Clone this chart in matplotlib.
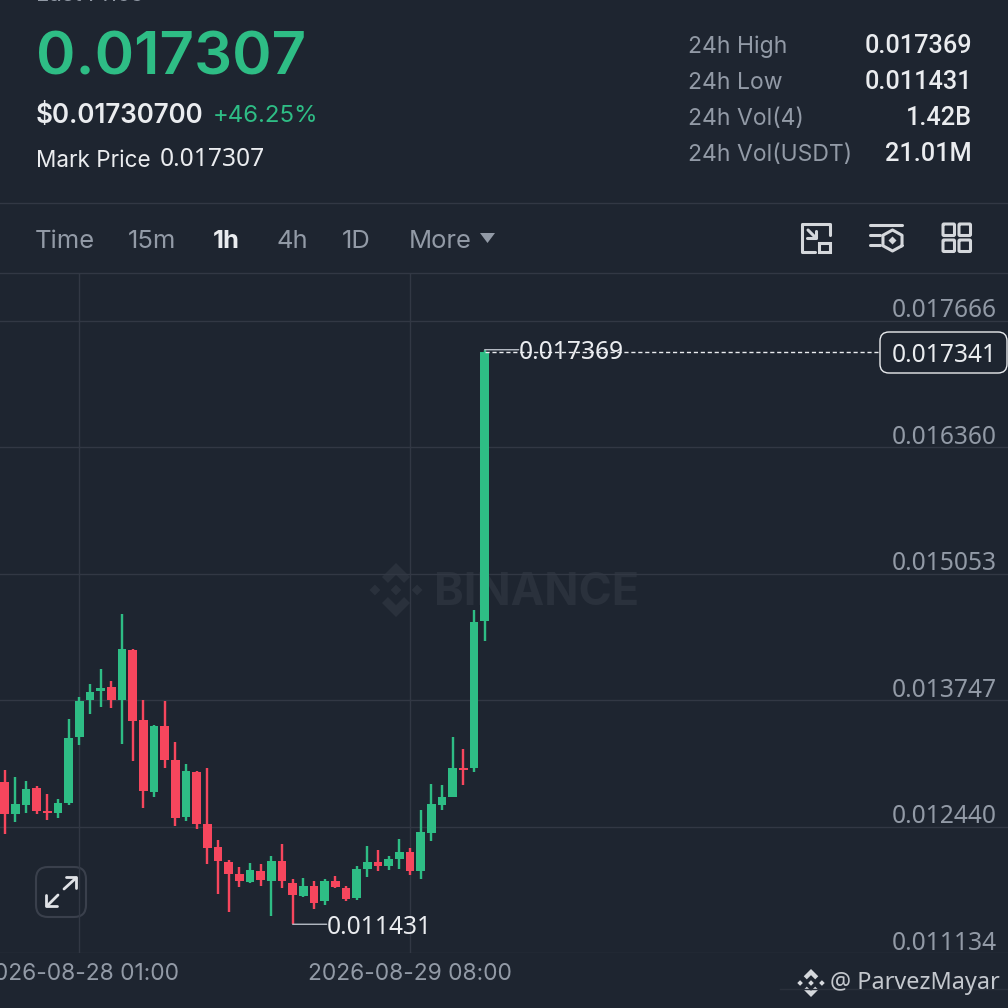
#!/usr/bin/env python3
"""Recreate a 1h candlestick screenshot of a price page."""

import matplotlib
matplotlib.use("Agg")
import matplotlib.pyplot as plt
import numpy as np
from matplotlib.patches import FancyBboxPatch, Polygon, Rectangle

# Prices are in millionths, candles run left to right one hour apart
opens = [12901, 12567, 12667, 12843, 12598, 12584, 12681, 13363, 13745, 13845,
         13880, 13749, 14266, 13539, 12802, 13480, 13129, 12536, 13008, 12471,
         12230, 12075, 11951, 11871, 11985, 11878, 12081, 11858, 11723, 11826,
         11668, 11875, 11806, 11699, 12006, 12075, 12033, 12106, 12178, 11982,
         12378, 12660, 12746, 13043, 13043, 14565]
highs = [13025, 12950, 12908, 12857, 12774, 12722, 13549, 13776, 13911, 14073,
         13945, 14638, 14273, 13749, 13491, 13739, 13311, 13091, 13015, 13050,
         12302, 12092, 12020, 12061, 12054, 12140, 12257, 11895, 11913, 11875,
         11895, 11933, 11826, 12037, 12240, 12195, 12137, 12312, 12216, 12609,
         12881, 12870, 13363, 13242, 14679, 17369]
lows = [12360, 12491, 12584, 12571, 12512, 12529, 12667, 13287, 13604, 13673,
        13663, 13298, 13122, 12636, 12750, 13050, 12450, 12498, 12419, 12050,
        11747, 11558, 11820, 11854, 11830, 11520, 11802, 11431, 11716, 11592,
        11634, 11809, 11675, 11685, 11916, 11985, 11995, 11999, 11940, 11899,
        12295, 12615, 12746, 12867, 13001, 14362]
closes = [12574, 12674, 12826, 12598, 12584, 12688, 13353, 13742, 13832, 13876,
          13745, 14279, 13532, 12805, 13484, 13129, 12529, 13012, 12471, 12223,
          12081, 11951, 11878, 11989, 11885, 12081, 11878, 11737, 11830, 11654,
          11882, 11816, 11696, 11999, 12071, 12033, 12102, 12174, 11978, 12381,
          12671, 12750, 13043, 13022, 14559, 17341]

price_ticks = [17666, 16360, 15053, 13747, 12440, 11134]
time_tick_candles = [7, 38]
time_tick_labels = ["2026-08-28 01:00", "2026-08-29 08:00"]
tabs = ["Time", "15m", "1h", "4h", "1D", "More"]
stat_names = ["24h High", "24h Low", "24h Vol(4)", "24h Vol(USDT)"]
stat_values = ["0.017369", "0.011431", "1.42B", "21.01M"]

BG = "#1e2530"
GRID = "#323844"
GREEN = "#2ebd85"
RED = "#f6465d"
WHITE = "#eaecef"
GREY = "#929aa6"
ICON = "#d5d8dc"
NUM_FONT = "Noto Sans"  # digits all the same width, like the reference
px = 72 / 100  # font points per pixel at dpi 100

plt.rcParams["font.family"] = ["Inter", "DejaVu Sans"]


def draw_logo(ax, cx, cy, r, color):
    """Draw the diamond logo in pixel coordinates."""
    top = [(0, 1), (0.52, 0.48), (0.3, 0.26), (0, 0.56), (-0.3, 0.26), (-0.52, 0.48)]
    shapes = [top, [(x, -y) for x, y in top]]
    for dx in (-0.78, 0, 0.78):
        s = 0.2
        shapes.append([(dx, s), (dx + s, 0), (dx, -s), (dx - s, 0)])
    for shape in shapes:
        pts = [(cx + x * r, cy - y * r) for x, y in shape]
        ax.add_patch(Polygon(pts, closed=True, fc=color, ec="none"))


fig = plt.figure(figsize=(10.08, 10.08), dpi=100, facecolor=BG)

# Page chrome lives in an axes measured in screen pixels
page = fig.add_axes([0, 0, 1, 1], zorder=0)
page.set_xlim(0, 1008)
page.set_ylim(1008, 0)
page.axis("off")

page.text(36, 1, "Last Price", color=GREY, fontsize=23 * px, va="baseline")
page.text(36, 59, "0.017307", color=GREEN, fontsize=60 * px, fontweight="semibold", va="center")
page.text(36, 116, "$0.01730700", color=WHITE, fontsize=26.1 * px, fontweight="semibold", va="center")
page.text(213, 116, "+46.25%", color=GREEN, fontsize=24 * px, va="center")
page.text(36, 161, "Mark Price", color=WHITE, fontsize=22.5 * px, va="center")
page.text(160, 160, "0.017307", color=WHITE, family=NUM_FONT, fontsize=24.6 * px, va="center")

for i, (name, value) in enumerate(zip(stat_names, stat_values)):
    y = 47 + 36 * i
    page.text(688, y, name, color=GREY, fontsize=23 * px, va="center")
    page.text(972, y - 1, value, color=WHITE, family="Roboto", fontsize=25.3 * px,
              fontweight="medium", va="center", ha="right")

page.plot([0, 1008], [203, 203], color=GRID, lw=1)
page.plot([0, 1008], [273, 273], color=GRID, lw=1)
page.plot([780, 1008], [989, 989], color="#2a303b", lw=1)

tab_x = [35, 128, 213, 277, 342, 409]
for name, x in zip(tabs, tab_x):
    active = name == "1h"
    page.text(x, 241, name, color=WHITE if active else GREY, fontsize=25.6 * px,
              fontweight="bold" if active else "normal", va="center")
page.add_patch(Polygon([(480, 233), (495, 233), (487.5, 243)], closed=True, fc=GREY, ec="none"))

# Toolbar icons
icon = dict(color=ICON, lw=2.2, solid_capstyle="round")
page.plot([830, 830, 802, 802, 815], [235, 224, 224, 252, 252], **icon)
page.add_patch(Rectangle((819, 243), 11, 9, fc="none", ec=ICON, lw=2.2))
page.plot([808, 816], [230, 238], **icon)
page.plot([816, 816, 807], [231, 238, 238], **icon)
page.plot([870, 902], [225, 225], **icon)
page.plot([870, 880], [235, 235], **icon)
page.plot([870, 880], [245, 245], **icon)
hex_a = np.deg2rad(np.arange(30, 391, 60))
page.plot(892.5 + 11 * np.cos(hex_a), 240.5 + 10.5 * np.sin(hex_a), **icon)
page.add_patch(Polygon([(892.5, 236.5), (896.5, 240.5), (892.5, 244.5), (888.5, 240.5)],
                       closed=True, fc=ICON, ec="none"))
for x in (943, 959):
    for y in (224, 240):
        page.add_patch(FancyBboxPatch((x, y), 11.5, 11.5, boxstyle="round,pad=0,rounding_size=1",
                                      fc="none", ec=ICON, lw=2.2))

# Watermarks
draw_logo(page, 396, 590, 27, "#2a313c")
page.text(434, 593, "BINANCE", color="#2a313c", fontsize=45 * px, fontweight="bold", va="center")
draw_logo(page, 811, 983, 14, ICON)
page.text(830, 983, "@ ParvezMayar", color="#c4c8ce", fontsize=23.5 * px, family="Noto Sans", va="center")

# Candles
chart = fig.add_axes([0, 55 / 1008, 1, 680 / 1008], zorder=1)
chart.patch.set_alpha(0)
for spine in chart.spines.values():
    spine.set_visible(False)
chart.set_xlim(-0.44, 94.06)
chart.set_ylim(0.011134, 0.018162)

o = np.array(opens) / 1e6
h = np.array(highs) / 1e6
l = np.array(lows) / 1e6
c = np.array(closes) / 1e6
x = np.arange(len(o))
colors = [GREEN if close >= op else RED for op, close in zip(o, c)]

chart.set_yticks(np.array(price_ticks) / 1e6)
chart.set_xticks(time_tick_candles)
chart.set_xticklabels(time_tick_labels, color=GREY, fontsize=22.8 * px)
chart.tick_params(axis="x", length=0, pad=7)
chart.tick_params(axis="y", length=0, labelleft=False)
chart.grid(True, color=GRID, lw=1)
chart.set_axisbelow(True)

chart.vlines(x, l, h, colors=colors, lw=2.4 * px, zorder=3)
body = np.maximum(np.abs(c - o), 0.00002)
chart.bar(x, body, bottom=np.minimum(o, c), width=0.81, color=colors, lw=0, zorder=4)

for tick in price_ticks:
    chart.annotate(f"{tick / 1e6:.6f}", xy=(1, tick / 1e6), xycoords=chart.get_yaxis_transform(),
                   xytext=(-11 * px, 10 * px), textcoords="offset points", ha="right", va="center",
                   color=GREY, family=NUM_FONT, fontsize=24.6 * px)

# High and low markers, leader drawn level with the wick tip
hi = int(np.argmax(h))
lo = int(np.argmin(l))
marker_line = dict(arrowstyle="-", color="#b7bdc6", lw=1, shrinkA=0, shrinkB=0)
for idx, value in ((hi, h[hi]), (lo, l[lo])):
    chart.annotate("", xy=(idx, value), xytext=(34 * px, 0), textcoords="offset points",
                   arrowprops=marker_line, zorder=6)
    chart.annotate(f"{value:.6f}", xy=(idx, value), xytext=(34 * px, -3 * px), textcoords="offset points",
                   va="center", color=WHITE, family=NUM_FONT, fontsize=24.6 * px, zorder=6)

# Last price line and tag
chart.plot([hi, 82.1], [c[hi], c[hi]], color=WHITE, lw=1, ls=(0, (3, 2)), zorder=5)
page.add_patch(FancyBboxPatch((880, 332), 127, 41, boxstyle="round,pad=0,rounding_size=9",
                              fc=BG, ec=WHITE, lw=1, zorder=3))
chart.annotate(f"{c[hi]:.6f}", xy=(1, c[hi]), xycoords=chart.get_yaxis_transform(),
               xytext=(-11 * px, -3 * px), textcoords="offset points", ha="right", va="center",
               color=WHITE, family=NUM_FONT, fontsize=24.6 * px)

# Fullscreen button
page.add_patch(FancyBboxPatch((36, 867), 50, 50, boxstyle="round,pad=0,rounding_size=12",
                              fc=BG, ec="#3a404c", lw=1.5, zorder=5))
arrow = dict(color="#e0e2e6", lw=2, zorder=6, solid_capstyle="round")
page.plot([64, 76], [889, 878], **arrow)
page.plot([66, 76, 76], [877, 877, 888], **arrow)
page.plot([47, 58], [906, 895], **arrow)
page.plot([46, 46, 57], [895, 906, 906], **arrow)

fig.savefig("out.png", dpi=100, facecolor=BG)
